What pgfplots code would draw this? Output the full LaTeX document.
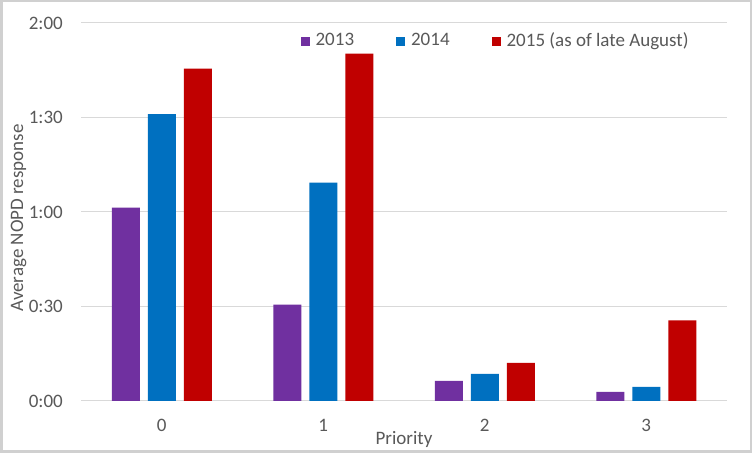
\documentclass[border=0pt]{standalone}
\usepackage{pgfplots}
\pgfplotsset{compat=1.18}
\usepackage{fontspec}
\setmainfont{Carlito}
\definecolor{c13}{HTML}{7030A0}
\definecolor{c14}{HTML}{0070C0}
\definecolor{c15}{HTML}{C00000}
\definecolor{txt}{HTML}{595959}
\definecolor{gridc}{HTML}{D9D9D9}
\definecolor{framec}{HTML}{D0D0D0}
\begin{document}
\fontsize{19bp}{22bp}\selectfont
\begin{tikzpicture}[x=1bp,y=1bp]
\useasboundingbox (0,0) rectangle (752,453);
\fill[white] (0,0) rectangle (752,453);
\draw[framec, line width=2.5bp] (1.25,1.25) rectangle (750.75,451.75);
\begin{axis}[
  at={(81bp,52bp)}, anchor=south west,
  scale only axis, width=646bp, height=378bp,
  xmin=-0.5, xmax=3.5, ymin=0, ymax=120,
  ybar=8bp, bar width=28bp,
  axis line style={draw=none},
  ymajorgrids, grid style={gridc, line width=1bp},
  major tick length=0pt,
  xtick={0,1,2,3}, xticklabels={0,1,2,3},
  ytick={0,30,60,90,120}, yticklabels={0:00,0:30,1:00,1:30,2:00},
  ticklabel style={font=\fontsize{19bp}{22bp}\selectfont, text=txt, inner sep=0pt},
  yticklabel style={anchor=east, xshift=-18bp},
  xticklabel style={anchor=north, yshift=-18bp},
  legend style={draw=none, fill=none, at={(rel axis cs:0.335,0.985)}, anchor=north west,
    font=\fontsize{19bp}{22bp}\selectfont, text=txt, legend columns=3,
    /tikz/every odd column/.append style={column sep=4bp},
    /tikz/every even column/.append style={column sep=40bp}},
  legend image code/.code={\fill[#1,draw=none] (0bp,-4.5bp) rectangle (9bp,4.5bp);},
]
\addplot[fill=c13, draw=none] coordinates {(0,61.4) (1,30.6) (2,6.4) (3,2.9)};
\addplot[fill=c14, draw=none] coordinates {(0,91.1) (1,69.3) (2,8.6) (3,4.5)};
\addplot[fill=c15, draw=none] coordinates {(0,105.5) (1,110.3) (2,12.1) (3,25.6)};
\legend{2013,2014,2015 (as of late August)}
\end{axis}
\node[anchor=base, text=txt] at (404,8) {Priority};
\node[anchor=base, rotate=90, text=txt] at (23,235) {Average NOPD response};
\end{tikzpicture}
\end{document}
